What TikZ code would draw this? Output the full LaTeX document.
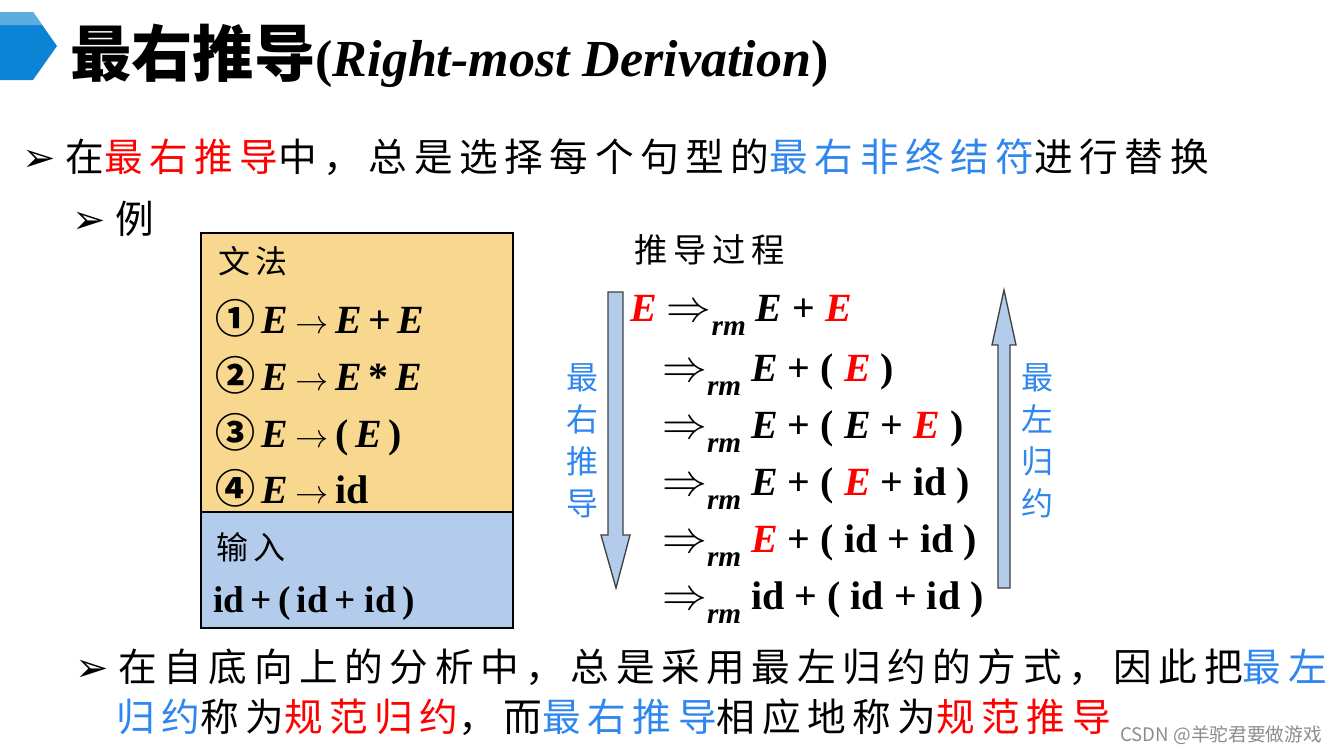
\documentclass[tikz,border=0pt]{standalone}
\usepackage{fontspec}
\setmainfont{Liberation Serif}
\newfontfamily\cjk{Noto Sans CJK SC}
\newfontfamily\cjkw[LetterSpace=17]{Noto Sans CJK SC}
\newfontfamily\sym{DejaVu Sans}
\usetikzlibrary{positioning,shapes.arrows}
\definecolor{rblue}{HTML}{2F86EE}
\definecolor{iconblue}{HTML}{0C84D6}
\definecolor{iconlight}{HTML}{5DADE2}
\definecolor{gramfill}{HTML}{F8D88E}
\definecolor{inpfill}{HTML}{B4CCEC}
\newcommand{\Ev}{\textbf{\textit{E}}}
\newcommand{\Er}{\textcolor{red}{\textbf{\textit{E}}}}
\newcommand{\rmd}{\scalebox{1.35}{$\Rightarrow$}\raisebox{-0.35em}{\fontsize{22}{22}\selectfont\textbf{\textit{rm}}}\ }
\newcommand{\id}{\textbf{id}}
\newcommand{\bul}{{\sym\fontsize{30}{30}\selectfont ➢}}
\begin{document}
\begin{tikzpicture}[x=0.75pt,y=-0.75pt,
  txt/.style={anchor=base west,inner sep=0pt,font=\fontsize{29}{32}\selectfont},
  deriv/.style={anchor=base west,inner sep=0pt,font=\fontsize{30}{32}\selectfont\bfseries},
  vlab/.style={text=rblue,align=center,font=\cjk\fontsize{24}{31.5}\selectfont,inner sep=0pt},
  bigarrow/.style={fill=inpfill,draw=black!75,line width=1pt}]
\useasboundingbox (0,0) rectangle (1335,754);
% title
\fill[iconblue] (0,12) -- (33,12) -- (57,46) -- (33,80) -- (0,80) -- cycle;
\fill[iconlight] (0,12) -- (33,12) -- (42,25) -- (0,25) -- cycle;
\node[anchor=base west,inner sep=0pt] (title) at (70,76)
  {{\cjk\bfseries\fontsize{46}{50}\selectfont 最右推导}{\fontsize{39}{40}\selectfont\bfseries(\textit{Right-most Derivation})}};
% first bullet
\node[txt] (l1) at (22,171) {\bul\ {\cjkw 在\textcolor{red}{最右推导}中，总是选择每个句型的\textcolor{rblue}{最右非终结符}进行替换}};
\node[txt] (l2) at (72,233) {\bul\ {\cjkw 例}};
% grammar and input boxes
\fill[gramfill] (201,233) rectangle (513,512);
\fill[inpfill] (201,512) rectangle (513,628);
\draw[line width=1pt] (201,233) rectangle (513,628) (201,512) -- (513,512);
\node[txt,font=\cjkw\fontsize{24}{30}\selectfont] (gram) at (218,273) {文法};
\node[deriv] (r1) at (215,333) {{\cjk ①}\,\Ev\,$\rightarrow$\,\Ev\,+\,\Ev};
\node[deriv] (r2) at (215,390) {{\cjk ②}\,\Ev\,$\rightarrow$\,\Ev\,*\,\Ev};
\node[deriv] (r3) at (215,447) {{\cjk ③}\,\Ev\,$\rightarrow$\,(\,\Ev\,)};
\node[deriv] (r4) at (215,503) {{\cjk ④}\,\Ev\,$\rightarrow$\,\id};
\node[txt,font=\cjkw\fontsize{24}{30}\selectfont] (inp) at (216,559) {输入};
\node[deriv,font=\fontsize{28}{32}\selectfont\bfseries] (inpstr) at (213,612) {\id\,+\,(\,\id\,+\ \id\,)};
% derivation
\node[txt,font=\cjkw\fontsize{25}{30}\selectfont] (head) at (634,262) {推导过程};
\node[deriv] (d1) at (630,321) {\Er\ \rmd\Ev\ +\ \Er};
\node[deriv] (d2) at (662,381) {\rmd\Ev\ +\ (\ \Er\ )};
\node[deriv] (d3) at (662,438) {\rmd\Ev\ +\ (\ \Ev\ +\ \Er\ )};
\node[deriv] (d4) at (662,495) {\rmd\Ev\ +\ (\ \Er\ +\ \id\ )};
\node[deriv] (d5) at (662,552) {\rmd\Er\ +\ (\ \id\ +\ \id\ )};
\node[deriv] (d6) at (662,609) {\rmd\id\ +\ (\ \id\ +\ \id\ )};
% arrows
\draw[bigarrow] (608,292) -- (623,292) -- (623,535) -- (630,535) -- (616,588) -- (601,535) -- (608,535) -- cycle;
\draw[bigarrow] (998,588) -- (1010,588) -- (1010,345) -- (1016,345) -- (1004,290) -- (992,345) -- (998,345) -- cycle;
\node[vlab] (down) at (582,441) {最\\右\\推\\导};
\node[vlab] (up) at (1037,441) {最\\左\\归\\约};
% bottom bullet
\node[txt] (b1) at (75,681) {\bul\ {\cjkw 在自底向上的分析中，总是采用最左归约的方式，因此把\textcolor{rblue}{最左}}};
\node[txt] (b2) at (116,731) {\cjkw\textcolor{rblue}{归约}称为\textcolor{red}{规范归约}，而\textcolor{rblue}{最右推导}相应地称为\textcolor{red}{规范推导}};
\node[anchor=base east,inner sep=0pt,text=black!45,font=\cjk\fontsize{14}{16}\selectfont] (wm) at (1322,741) {CSDN @羊驼君要做游戏};
\end{tikzpicture}
\end{document}
